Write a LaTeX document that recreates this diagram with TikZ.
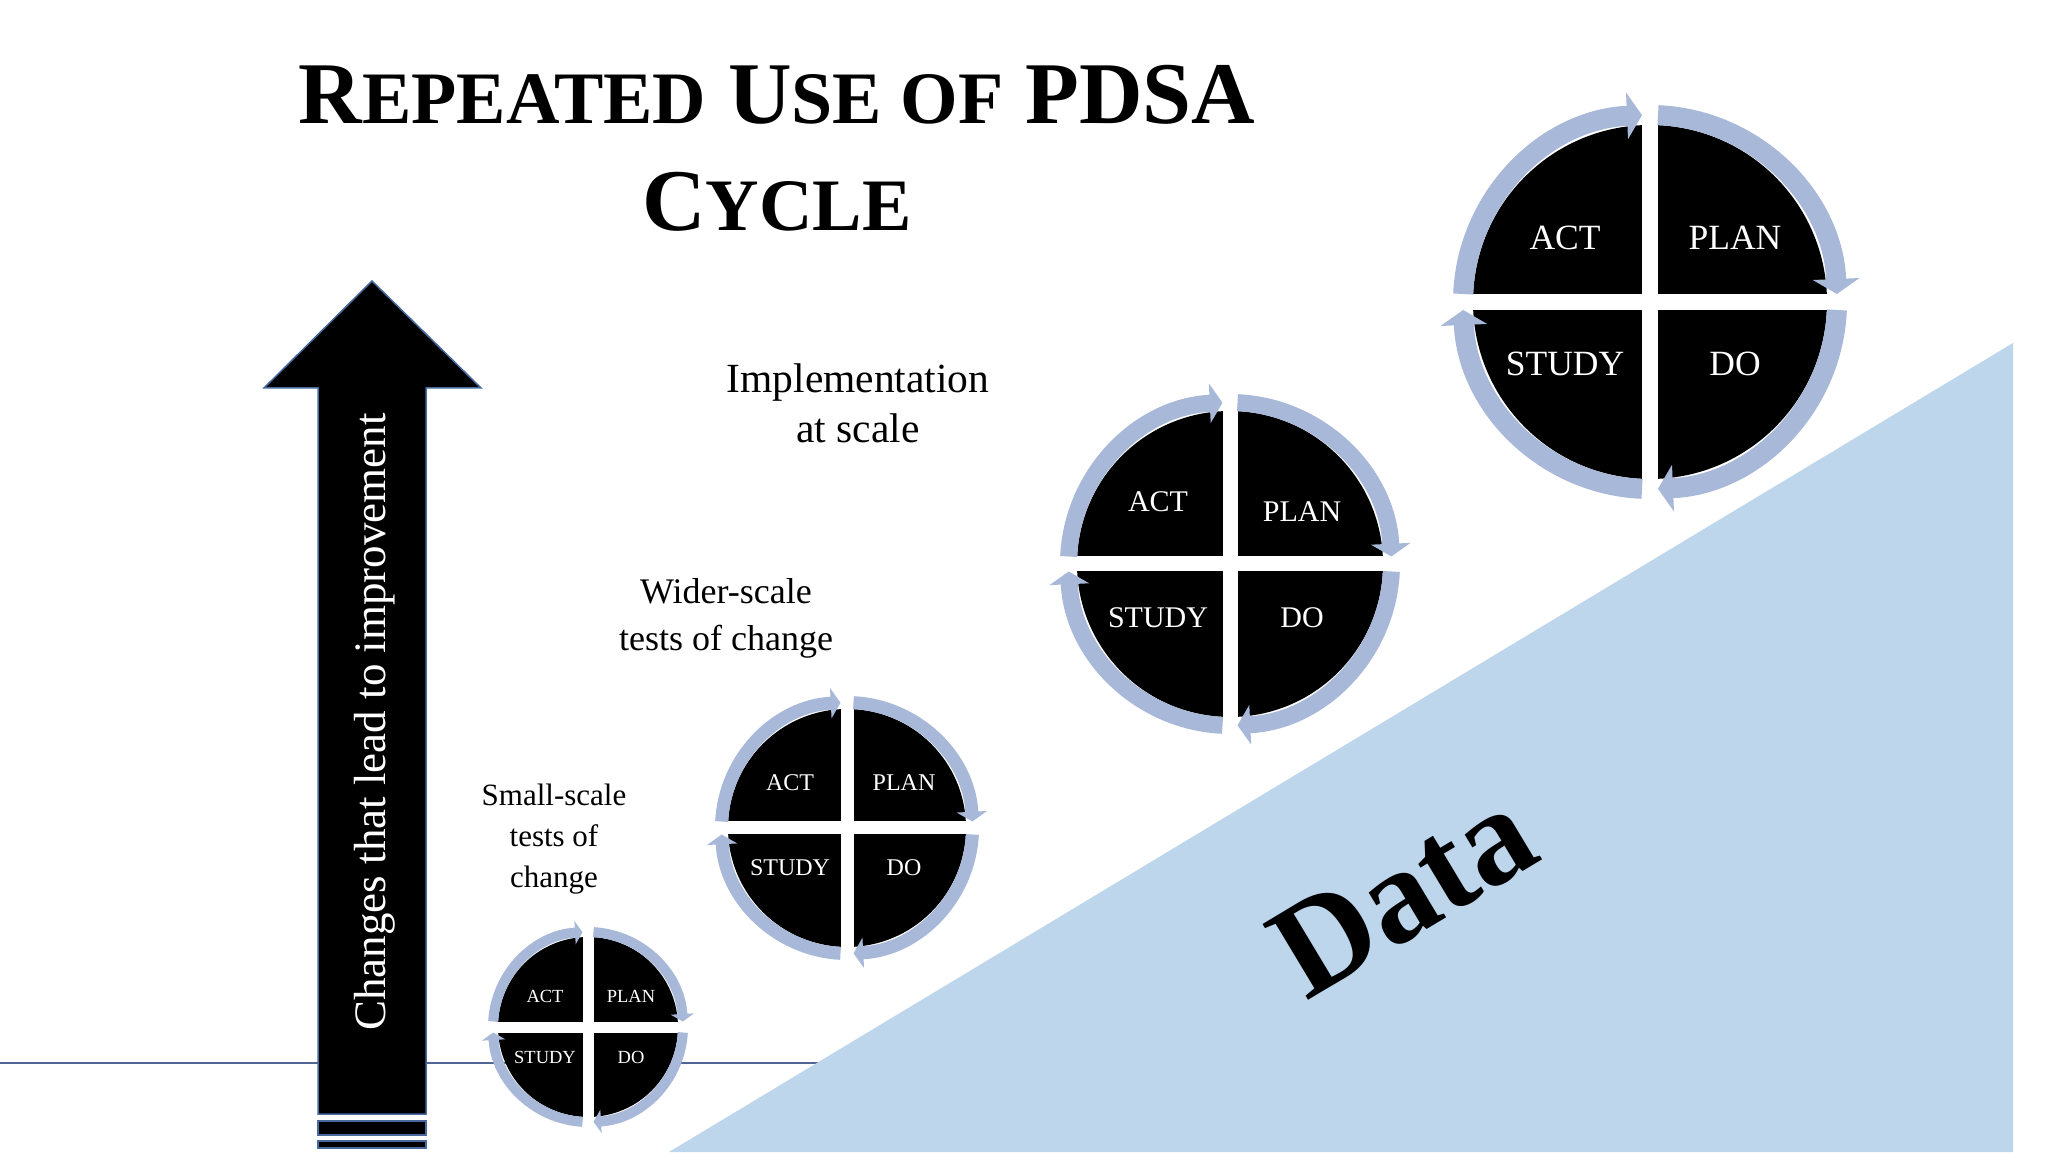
\documentclass[tikz,border=0pt]{standalone}
\usepackage{fontspec}
\setmainfont{Liberation Serif}
\usepackage{tikz}
\usetikzlibrary{arrows.meta}
\definecolor{datacol}{RGB}{190,214,236}
\definecolor{ringcol}{RGB}{168,184,216}
\definecolor{floorcol}{RGB}{80,100,150}
\definecolor{edgecol}{RGB}{70,105,160}
\newcommand{\titlesc}[1]{{\fontsize{74}{107}\selectfont #1}}

\begin{document}
\begin{tikzpicture}[
  x=1pt, y=1pt,
  lbl/.style={align=center, text=black, inner sep=0pt},
  quad/.style={text=white, inner sep=0pt},
  ring/.style={draw=ringcol, -{Triangle[width=0pt 2.3, length=0pt 0.75]}},
  gapline/.style={draw=white},
  bigarrow/.style={fill=black, draw=edgecol, line width=1.5pt},
]
\useasboundingbox[fill=white] (0,0) rectangle (2048,1152);

% Ground line and data wedge
\draw[floorcol, line width=2.5pt] (0,89) -- (820,89);
\fill[datacol] (669,0) -- (2013,809) -- (2013,0) -- cycle;
\node[rotate=31, font=\fontsize{135}{135}\selectfont\bfseries] (data) at (1403,259) {Data};

% Improvement arrow
\filldraw[bigarrow] (318,38) -- (318,764) -- (264,764) -- (372,871)
  -- (481,764) -- (426,764) -- (426,38) -- cycle;
\filldraw[bigarrow] (318,17) rectangle (426,31);
\filldraw[bigarrow] (318,4) rectangle (426,11);
\node[rotate=90, text=white, font=\fontsize{45}{45}\selectfont] (improve) at (375,430)
  {Changes that lead to improvement};

% Title
\node[lbl, font=\bfseries\fontsize{88}{107}\selectfont] (title) at (777,1004)
  {R\titlesc{EPEATED} U\titlesc{SE OF} PDSA\\C\titlesc{YCLE}};

% Stage labels
\node[lbl, font=\fontsize{31}{41}\selectfont] (small) at (554,313) {Small-scale\\tests of\\change};
\node[lbl, font=\fontsize{36}{47}\selectfont] (wider) at (726,534) {Wider-scale\\tests of change};
\node[lbl, font=\fontsize{41.5}{50}\selectfont] (impl) at (858,749) {Implementation\\at scale};

% PDSA cycles
\foreach \n/\cx/\cy/\R/\w/\g/\fs/\tx/\ty/\tp/\tb in {
    c1/588/125/100/10/11/18.5/43/31/31/30,
    c2/847/324/132/13/13/24/57/45/45/40,
    c3/1230/588/170/17/15/30/72/62/52/54,
    c4/1650/850/197/20/16/35.5/85/64/64/62}{
  \pgfmathsetmacro\rmid{\R-\w/2}
  \pgfmathsetmacro\ga{deg(\g/2/\rmid)}
  \coordinate (\n) at (\cx,\cy);
  \fill[black] (\n) circle ({\R-\w});
  \draw[gapline, line width=\g pt] ({\cx-\R+\w-1},\cy) -- ({\cx+\R-\w+1},\cy);
  \draw[gapline, line width=\g pt] (\cx,{\cy-\R+\w-1}) -- (\cx,{\cy+\R-\w+1});
  \foreach \s in {180,90,0,-90}
    \draw[ring, line width=\w pt] (\n) ++(\s-\ga:\rmid)
      arc[start angle=\s-\ga, end angle=\s-90+\ga, radius=\rmid];
  \node[quad, font=\fontsize{\fs}{\fs}\selectfont] (\n-act) at ({\cx-\tx},{\cy+\ty}) {ACT};
  \node[quad, font=\fontsize{\fs}{\fs}\selectfont] (\n-plan) at ({\cx+\tx},{\cy+\tp}) {PLAN};
  \node[quad, font=\fontsize{\fs}{\fs}\selectfont] (\n-study) at ({\cx-\tx},{\cy-\tb}) {STUDY};
  \node[quad, font=\fontsize{\fs}{\fs}\selectfont] (\n-do) at ({\cx+\tx},{\cy-\tb}) {DO};
}
\end{tikzpicture}
\end{document}
